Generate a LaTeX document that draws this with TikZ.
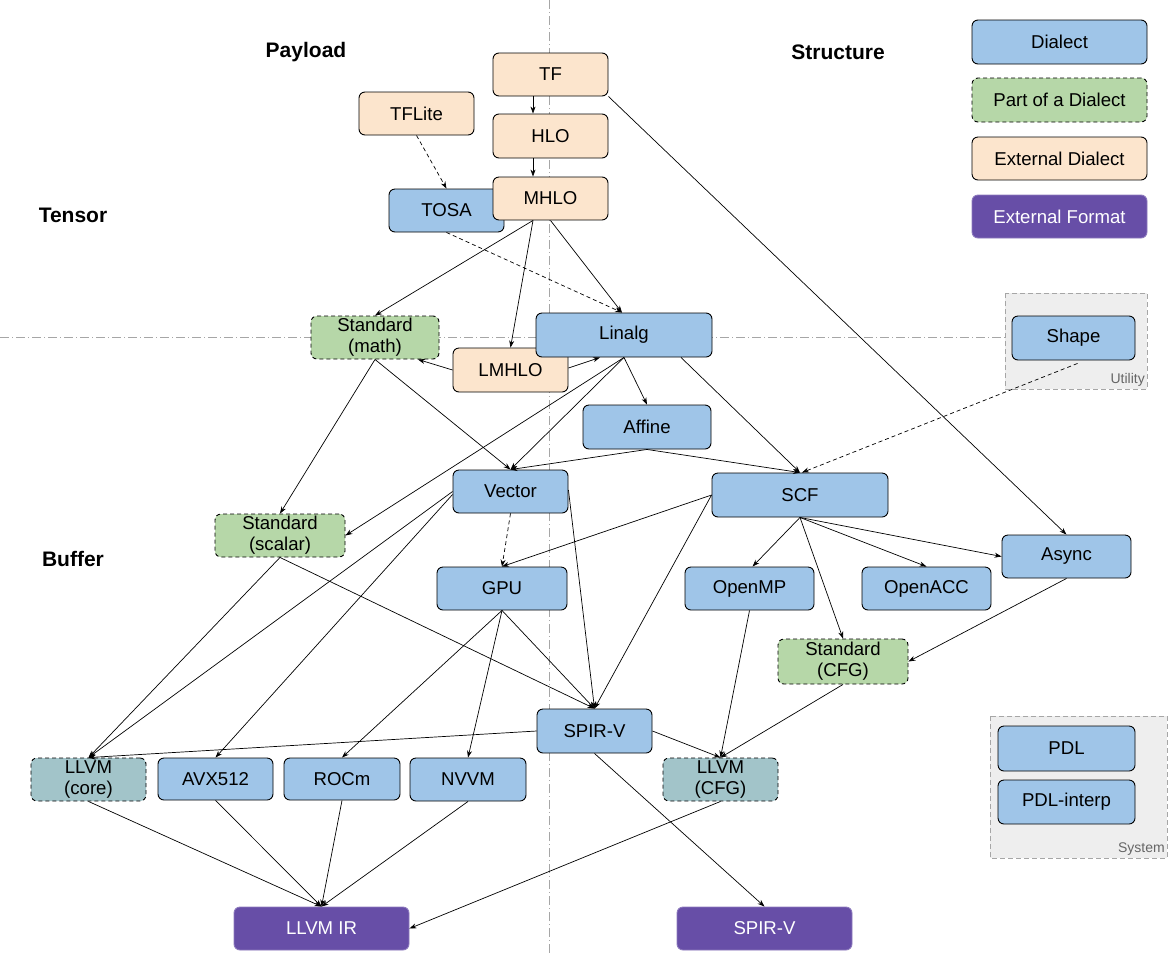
\documentclass[tikz,border=0pt]{standalone}
\usepackage{fontspec}
\setmainfont{Liberation Sans}
\usetikzlibrary{arrows.meta}
\definecolor{dblue}{HTML}{9FC5E8}
\definecolor{pgreen}{HTML}{B6D7A8}
\definecolor{eorange}{HTML}{FCE5CD}
\definecolor{fpurple}{HTML}{674EA7}
\definecolor{lteal}{HTML}{A2C4C9}
\definecolor{guidegray}{HTML}{A6A6A6}
\definecolor{grpfill}{HTML}{EEEEEE}
\tikzset{
  sz/.style 2 args={minimum width=#1pt, minimum height=#2pt},
  box/.style={draw=black, line width=0.9pt, rounded corners=6pt, inner sep=0pt, align=center, font=\fontsize{18.6}{21}\selectfont},
  dia/.style={box, fill=dblue},
  part/.style={box, fill=pgreen, dash pattern=on 4pt off 3pt},
  ext/.style={box, fill=eorange},
  llvmbox/.style={box, fill=lteal, dash pattern=on 4pt off 3pt},
  fmt/.style={box, fill=fpurple, draw=fpurple!75!white, text=white},
  conn/.style={-{Stealth[length=7pt,width=5pt]}, line width=0.7pt},
  dconn/.style={conn, dash pattern=on 4pt off 3pt},
  guide/.style={draw=guidegray, line width=0.8pt, dash pattern=on 9pt off 3pt on 1pt off 3pt},
  grp/.style={fill=grpfill, draw=guidegray, dash pattern=on 5pt off 3pt, line width=0.8pt},
  hdr/.style={font=\fontsize{21}{24}\selectfont\bfseries, inner sep=0pt},
  grplabel/.style={font=\fontsize{14}{16}\selectfont, text=black!60, anchor=south east, inner sep=2pt},
}
\begin{document}
\begin{tikzpicture}[x=1pt,y=-1pt]
\useasboundingbox (0,0) rectangle (1170,954);
% guides
\coordinate (vtop) at (549,0);
\coordinate (vbot) at (549,954);
\coordinate (hl) at (0,337);
\coordinate (hr) at (1005,337);
\draw[guide] (vtop) -- (vbot);
\draw[guide] (hl) -- (hr);
% groups
\draw[grp] (1005,293) rectangle (1147,389);
\node[grplabel] (utl) at (1147,389) {Utility};
\draw[grp] (990,716) rectangle (1167,858);
\node[grplabel] (sysl) at (1167,858) {System};
% headers
\node[hdr] (hpay) at (306,52) {Payload};
\node[hdr] (hstr) at (838,52) {Structure};
\node[hdr] (hten) at (73,215) {Tensor};
\node[hdr] (hbuf) at (73,559) {Buffer};
% legend
\node[dia, sz={175}{44}] (lgd) at (1059.5,42) {Dialect};
\node[part, sz={175}{44}] (lgp) at (1059.5,100) {Part of a Dialect};
\node[ext, sz={175}{43}] (lge) at (1059.5,158.5) {External Dialect};
\node[fmt, sz={175}{43}] (lgf) at (1059.5,216.5) {External Format};
% nodes
\node[ext, sz={115}{43}] (tf) at (550.5,74.5) {TF};
\node[ext, sz={115}{44}] (hlo) at (550.5,136) {HLO};
\node[ext, sz={115}{43}] (tflite) at (416.5,113.5) {TFLite};
\node[dia, sz={115}{43}] (tosa) at (446.5,210.5) {TOSA};
\node[ext, sz={115}{43}] (mhlo) at (550.5,198.5) {MHLO};
\node[part, sz={128}{43}] (stdmath) at (375,337.5) {Standard\\(math)};
\node[ext, sz={115}{44}] (lmhlo) at (510.5,370) {LMHLO};
\node[dia, sz={176}{44}] (linalg) at (624,335) {Linalg};
\node[dia, sz={123}{44}] (shape) at (1073.5,338) {Shape};
\node[dia, sz={128}{44}] (affine) at (647,427) {Affine};
\node[dia, sz={115}{43}] (vector) at (510.5,491.5) {Vector};
\node[dia, sz={176}{44}] (scf) at (800,495) {SCF};
\node[part, sz={130}{43}] (stdscalar) at (280,535.5) {Standard\\(scalar)};
\node[dia, sz={129}{43}] (async) at (1066.5,556.5) {Async};
\node[dia, sz={130}{43}] (gpu) at (502,588.5) {GPU};
\node[dia, sz={129}{43}] (openmp) at (749.5,588.5) {OpenMP};
\node[dia, sz={129}{43}] (openacc) at (926.5,588.5) {OpenACC};
\node[part, sz={130}{45}] (stdcfg) at (843,661.5) {Standard\\(CFG)};
\node[dia, sz={115}{44}] (spirv) at (594.5,731) {SPIR-V};
\node[llvmbox, sz={115}{43}] (llvmcore) at (88.5,779.5) {LLVM\\(core)};
\node[dia, sz={115}{42}] (avx) at (215.5,779) {AVX512};
\node[dia, sz={116}{42}] (rocm) at (342,779) {ROCm};
\node[dia, sz={116}{43}] (nvvm) at (468,779.5) {NVVM};
\node[llvmbox, sz={115}{43}] (llvmcfg) at (720.5,779.5) {LLVM\\(CFG)};
\node[fmt, sz={175}{43}] (llvmir) at (321.5,928.5) {LLVM IR};
\node[fmt, sz={175}{43}] (spirvfmt) at (764.5,928.5) {SPIR-V};
\node[dia, sz={137}{45}] (pdl) at (1066.5,748.5) {PDL};
\node[dia, sz={137}{44}] (pdlinterp) at (1066.5,802) {PDL-interp};
% connectors
\draw[conn] ([xshift=-17.5pt]tf.south) -- ([xshift=-17.5pt]hlo.north);
\draw[conn] ([xshift=-17.5pt]hlo.south) -- ([xshift=-17.5pt]mhlo.north);
\draw[conn] (tf.south east) -- (async.north);
\draw[dconn] (tflite.south) -- (tosa.north);
\draw[dconn] (tosa.south) -- ([xshift=-2pt]linalg.north);
\draw[conn] ([xshift=-17.5pt]mhlo.south) -- (stdmath.north);
\draw[conn] ([xshift=-17.5pt]mhlo.south) -- (lmhlo.north);
\draw[conn] (mhlo.south) -- ([xshift=-2pt]linalg.north);
\draw[conn] (lmhlo.west) -- ([xshift=43pt]stdmath.south);
\draw[conn] ([yshift=2pt]lmhlo.east) -- ([xshift=-24pt]linalg.south);
\draw[conn] (stdmath.south) -- (stdscalar.north);
\draw[conn] (stdmath.south) -- (vector.north);
\draw[conn] (linalg.south) -- (stdscalar.east);
\draw[conn] (linalg.south) -- (vector.north);
\draw[conn] (linalg.south) -- (affine.north);
\draw[conn] ([xshift=57pt]linalg.south) -- (scf.north);
\draw[conn] (affine.south) -- (vector.north);
\draw[conn] (affine.south) -- (scf.north);
\draw[dconn] ([xshift=4pt,yshift=-3pt]shape.south) -- ([xshift=2pt]scf.north);
\draw[dconn] (vector.south) -- (gpu.north);
\draw[conn] (vector.west) -- (llvmcore.north);
\draw[conn] ([yshift=-3pt]vector.west) -- (avx.north);
\draw[conn] ([yshift=1.5pt]vector.east) -- (spirv.north);
\draw[conn] (stdscalar.south) -- (llvmcore.north);
\draw[conn] (stdscalar.south) -- (spirv.north);
\draw[conn] (scf.west) -- (gpu.north);
\draw[conn] (scf.west) -- (spirv.north);
\draw[conn] (scf.south) -- ([xshift=3pt]openmp.north);
\draw[conn] (scf.south) -- (stdcfg.north);
\draw[conn] (scf.south) -- (openacc.north);
\draw[conn] (scf.south) -- (async.west);
\draw[conn] (gpu.south) -- (rocm.north);
\draw[conn] (gpu.south) -- (nvvm.north);
\draw[conn] (gpu.south) -- (spirv.north);
\draw[conn] (openmp.south) -- (llvmcfg.north);
\draw[conn] (stdcfg.south) -- (llvmcfg.north);
\draw[conn] (async.south) -- (stdcfg.east);
\draw[conn] (spirv.east) -- (llvmcfg.north);
\draw[conn] (spirv.west) -- (llvmcore.north);
\draw[conn] (spirv.south) -- (spirvfmt.north);
\draw[conn] (llvmcore.south) -- (llvmir.north);
\draw[conn] (avx.south) -- (llvmir.north);
\draw[conn] (rocm.south) -- (llvmir.north);
\draw[conn] (nvvm.south) -- (llvmir.north);
\draw[conn] (llvmcfg.south) -- (llvmir.east);
\end{tikzpicture}
\end{document}
